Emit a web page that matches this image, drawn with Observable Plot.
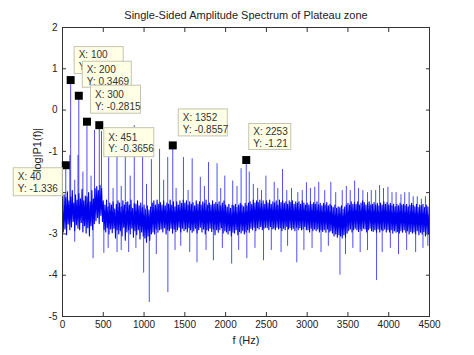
<!DOCTYPE html>
<html><head><meta charset="utf-8">
<script src="https://cdn.jsdelivr.net/npm/d3@7"></script>
<script src="https://cdn.jsdelivr.net/npm/@observablehq/plot@0.6"></script>
<style>
html,body{margin:0;padding:0;background:#fff;}
#chart{width:474px;height:355px;overflow:hidden;}
</style></head><body><div id="chart"></div>
<script>
const title = "Single-Sided Amplitude Spectrum of Plateau zone";
const xLabel = "f (Hz)";
const yLabel = "log|P1(f)|";
const xTicks = [0,500,1000,1500,2000,2500,3000,3500,4000,4500];
const yTicks = [-5,-4,-3,-2,-1,0,1,2];

// background spectrum, one value every 10 Hz from 0 to 4500 Hz
const noiseStep = 10;
const noise = [
-2.45,-2.95,-2.05,-2.88,-2.12,-3.02,-1.98,-2.76,-2.2,-2.9,
-2.1,-2.83,-1.95,-2.7,-2.25,-2.92,-2.05,-2.78,-2.18,-2.86,
-2.02,-2.9,-2.15,-2.72,-1.92,-2.95,-2.2,-2.8,-2.08,-2.98,
-2.1,-2.85,-2.0,-3.05,-2.22,-2.8,-1.95,-2.9,-2.15,-2.75,
-1.9,-2.68,-1.85,-2.6,-1.95,-2.75,-1.82,-2.55,-1.9,-2.7,
-2.2,-2.9,-2.3,-2.95,-2.18,-2.85,-2.35,-3.0,-2.25,-2.88,
-2.3,-2.97,-2.22,-2.86,-2.4,-3.1,-2.28,-2.9,-2.2,-3.0,
-2.25,-2.92,-2.35,-3.05,-2.2,-2.84,-2.3,-3.15,-2.24,-2.95,
-2.22,-2.9,-2.3,-3.0,-2.18,-2.86,-2.38,-3.08,-2.26,-2.92,
-2.28,-3.02,-2.2,-2.9,-2.32,-3.12,-2.25,-2.95,-2.36,-3.05,
-2.3,-3.1,-2.4,-3.2,-2.32,-3.05,-2.42,-3.15,-2.35,-3.0,
-2.25,-2.95,-2.2,-3.0,-2.3,-2.88,-2.18,-2.96,-2.28,-2.9,
-2.24,-2.88,-2.3,-2.95,-2.2,-2.85,-2.32,-3.0,-2.25,-2.9,
-2.28,-2.92,-2.18,-2.86,-2.3,-2.98,-2.22,-2.88,-2.34,-2.94,
-2.22,-2.9,-2.3,-2.84,-2.2,-2.95,-2.26,-2.86,-2.18,-2.92,
-2.25,-2.88,-2.2,-2.95,-2.3,-2.85,-2.22,-2.9,-2.28,-2.96,
-2.24,-2.92,-2.32,-2.86,-2.2,-2.98,-2.28,-2.9,-2.22,-2.84,
-2.3,-2.95,-2.22,-2.88,-2.26,-3.0,-2.18,-2.9,-2.3,-2.92,
-2.25,-2.86,-2.3,-2.94,-2.2,-2.88,-2.28,-3.02,-2.24,-2.9,
-2.28,-2.96,-2.22,-2.9,-2.32,-2.85,-2.25,-2.98,-2.2,-2.92,
-2.3,-2.95,-2.35,-3.0,-2.28,-2.92,-2.38,-3.05,-2.3,-2.96,
-2.32,-2.98,-2.28,-2.9,-2.36,-3.02,-2.3,-2.94,-2.26,-2.98,
-2.3,-2.92,-2.34,-3.0,-2.26,-2.95,-2.32,-2.9,-2.25,-2.96,
-2.22,-2.86,-2.28,-2.9,-2.18,-2.84,-2.25,-2.92,-2.2,-2.85,
-2.24,-2.88,-2.18,-2.82,-2.26,-2.9,-2.2,-2.86,-2.28,-2.84,
-2.2,-2.85,-2.25,-2.9,-2.18,-2.82,-2.28,-2.88,-2.22,-2.86,
-2.25,-2.9,-2.2,-2.84,-2.3,-2.88,-2.18,-2.85,-2.24,-2.92,
-2.2,-2.86,-2.26,-2.9,-2.22,-2.82,-2.28,-2.88,-2.2,-2.85,
-2.24,-2.9,-2.2,-2.86,-2.28,-2.92,-2.22,-2.84,-2.26,-2.9,
-2.22,-2.85,-2.28,-2.9,-2.2,-2.88,-2.25,-2.82,-2.3,-2.9,
-2.25,-2.9,-2.3,-2.95,-2.22,-2.86,-2.28,-2.92,-2.24,-2.88,
-2.28,-2.92,-2.22,-2.88,-2.3,-2.95,-2.26,-2.9,-2.32,-2.94,
-2.26,-2.9,-2.3,-2.96,-2.24,-2.88,-2.32,-2.95,-2.28,-2.92,
-2.32,-2.98,-2.36,-3.05,-2.3,-3.0,-2.38,-3.08,-2.34,-3.02,
-2.36,-3.05,-2.32,-3.1,-2.4,-3.02,-2.35,-3.08,-2.3,-2.98,
-2.26,-2.92,-2.3,-2.88,-2.22,-2.95,-2.28,-2.9,-2.24,-2.86,
-2.28,-2.9,-2.22,-2.94,-2.3,-2.88,-2.25,-2.92,-2.2,-2.86,
-2.24,-2.88,-2.3,-2.95,-2.26,-2.9,-2.22,-2.86,-2.3,-2.92,
-2.28,-2.94,-2.24,-2.9,-2.3,-2.96,-2.26,-2.88,-2.32,-2.95,
-2.25,-2.9,-2.3,-2.92,-2.22,-2.88,-2.28,-2.95,-2.24,-2.9,
-2.3,-2.95,-2.26,-2.9,-2.32,-2.98,-2.28,-2.92,-2.34,-2.96,
-2.28,-2.94,-2.32,-2.98,-2.26,-2.92,-2.3,-2.96,-2.28,-2.9,
-2.32,-2.96,-2.28,-2.92,-2.34,-3.0,-2.3,-2.94,-2.26,-2.98,
-2.3,-2.95,-2.34,-3.0,-2.28,-2.92,-2.36,-3.02,-2.3,-2.96,
-2.32,-3.0,-2.28,-2.94,-2.36,-3.05,-2.3,-2.98,-2.34,-3.0,
-2.5
];

// upward spectral lines [f (Hz), log|P1|]
const peaks = [
[40,-1.336],[90,-1.1],[100,0.7265],[150,-1.7],[190,-1.1],[200,0.3469],[250,-1.5],[300,-0.2815],
[350,-1.6],[392,-0.49],[451,-0.3656],[478,-0.52],[566,-0.8],[620,-1.9],[668,-0.9],[720,-1.85],
[770,-0.98],[830,-1.6],[880,-0.38],[982,-1.05],[1030,-1.8],[1090,-1.2],[1190,-0.95],[1240,-1.7],
[1290,-1.15],[1352,-0.8557],[1393,-1.9],[1483,-1.15],[1540,-1.95],[1590,-1.18],[1690,-1.63],
[1740,-1.85],[1790,-1.27],[1895,-1.3],[1940,-1.9],[1990,-1.6],[2087,-1.72],[2140,-1.85],
[2190,-1.42],[2253,-1.21],[2290,-1.5],[2340,-1.8],[2393,-1.9],[2440,-1.95],[2494,-1.6],
[2596,-1.75],[2640,-1.9],[2698,-1.44],[2750,-1.95],[2808,-1.9],[2885,-2.0],[2940,-1.95],
[2991,-1.76],[3040,-1.9],[3093,-1.87],[3142,-1.75],[3215,-1.95],[3290,-1.75],[3350,-2.0],
[3430,-1.95],[3480,-1.85],[3528,-1.95],[3582,-1.72],[3630,-1.9],[3683,-1.95],[3740,-2.0],
[3786,-1.95],[3840,-1.95],[3888,-1.83],[3936,-1.9],[3990,-1.87],[4040,-2.0],[4090,-2.0],
[4150,-2.05],[4196,-2.0],[4250,-2.0],[4300,-2.1],[4350,-2.1],[4400,-2.16],[4450,-2.1]
];
// downward spectral dips [f (Hz), log|P1|]
const dips = [
[150,-3.2],[375,-3.6],[507,-3.47],[560,-3.35],[669,-3.45],[720,-3.4],[811,-3.45],[900,-3.35],
[995,-3.95],[1064,-4.66],[1150,-3.5],[1292,-4.42],[1380,-3.4],[1450,-3.3],[1560,-3.45],
[1649,-3.7],[1760,-3.4],[1850,-3.65],[1960,-3.35],[2074,-3.73],[2160,-3.4],[2260,-3.6],
[2360,-3.35],[2465,-3.65],[2560,-3.4],[2680,-3.45],[2760,-3.3],[2873,-3.7],[2960,-3.4],
[3060,-3.35],[3170,-3.45],[3260,-3.3],[3402,-4.0],[3470,-3.5],[3560,-3.35],[3650,-3.45],
[3740,-3.4],[3851,-4.13],[3920,-3.45],[4020,-3.35],[4120,-3.5],[4220,-3.4],[4330,-3.45],
[4420,-3.35],[4480,-3.3]
];

// data tips
const tipF = [40,100,200,300,451,1352,2253];
const tipV = [-1.336,0.7265,0.3469,-0.2815,-0.3656,-0.8557,-1.21];
const tipText = ["-1.336","0.7265","0.3469","-0.2815","-0.3656","-0.8557","-1.21"];
// layout of the tip boxes (pixels relative to marker)
const tipBox = [
 {dx:-52,dy:3,w:49,h:28},
 {dx:4,dy:-33,w:49,h:27},
 {dx:4,dy:-34,w:49,h:26},
 {dx:4,dy:-36,w:50,h:28},
 {dx:5,dy:3,w:50,h:29},
 {dx:6,dy:-36,w:49,h:27},
 {dx:3,dy:-36,w:42,h:26}
];

const series = noise.map((v,i)=>({f:i*noiseStep, v}));
const peakData = peaks.map(([f,v])=>({f,v}));
const dipData = dips.map(([f,v])=>({f,v}));
const tips = tipF.map((f,i)=>({f, v:tipV[i], label:`X: ${f}\nY: ${tipText[i]}`}));

const font = "'Liberation Sans', Arial, sans-serif";
const blue = "#0000f0";
const axisCol = "#333";
const fmt = d => String(d);

const tipMarks = tips.flatMap((t,i)=>{
  const b = tipBox[i];
  return [
    Plot.rect([t],{x1:"f",x2:"f",y1:"v",y2:"v",
      insetLeft:b.dx, insetRight:-(b.dx+b.w), insetTop:b.dy, insetBottom:-(b.dy+b.h),
      fill:"#ffffe6", stroke:"#c4c4b0", strokeWidth:1}),
    Plot.text([t],{x:"f",y:"v",text:"label",dx:b.dx+4,dy:b.dy+b.h/2,
      textAnchor:"start",lineAnchor:"middle",lineHeight:1.2,fontSize:10,fill:"#333"})
  ];
});

const chart = Plot.plot({
  width:474, height:355,
  marginLeft:62, marginRight:45, marginTop:27, marginBottom:39,
  x:{domain:[0,4500]},
  y:{domain:[-5,2]},
  style:{fontFamily:font, fontSize:"10px", color:"#222", background:"#fff"},
  marks:[
    Plot.line(series,{x:"f",y:"v",stroke:blue,strokeWidth:1.1}),
    Plot.ruleX(peakData,{x:"f",y1:-2.4,y2:"v",stroke:blue,strokeWidth:0.7}),
    Plot.ruleX(dipData,{x:"f",y1:-2.6,y2:"v",stroke:blue,strokeWidth:0.7}),
    Plot.frame({stroke:axisCol}),
    Plot.axisX({anchor:"bottom",ticks:xTicks,tickSize:-4,tickFormat:()=>"",label:null,stroke:axisCol}),
    Plot.axisX({anchor:"top",ticks:xTicks,tickSize:-4,tickFormat:()=>"",label:null,stroke:axisCol}),
    Plot.axisY({anchor:"left",ticks:yTicks,tickSize:-4,tickFormat:()=>"",label:null,stroke:axisCol}),
    Plot.axisY({anchor:"right",ticks:yTicks,tickSize:-4,tickFormat:()=>"",label:null,stroke:axisCol}),
    Plot.axisX({anchor:"bottom",ticks:xTicks,tickSize:0,tickPadding:4,tickFormat:fmt,label:null,fill:"#222"}),
    Plot.axisY({anchor:"left",ticks:yTicks,tickSize:0,tickPadding:5,tickFormat:fmt,label:null,fill:"#222"}),
    Plot.dot(tips,{x:"f",y:"v",symbol:"square",r:4.5,fill:"#000",stroke:"none"}),
    ...tipMarks,
    Plot.text([title],{frameAnchor:"top",dy:-12,fontSize:11,fill:"#222",lineAnchor:"middle"}),
    Plot.text([xLabel],{frameAnchor:"bottom",dy:24,fontSize:11,fill:"#222",lineAnchor:"middle"}),
    Plot.text([yLabel],{frameAnchor:"left",dx:-25,rotate:-90,fontSize:11,fill:"#222",lineAnchor:"middle"})
  ]
});
document.getElementById("chart").appendChild(chart);
</script></body></html>
